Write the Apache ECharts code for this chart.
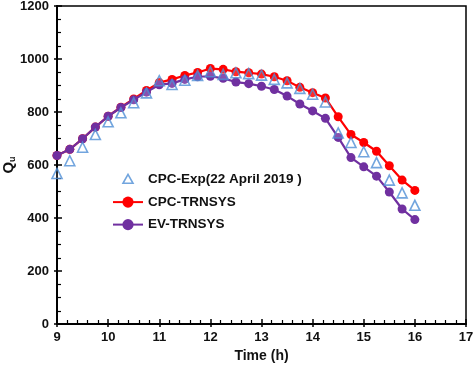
<!DOCTYPE html>
<html>
<head>
<meta charset="utf-8">
<script src="https://cdn.jsdelivr.net/npm/echarts@6/dist/echarts.min.js"></script>
<style>html,body{margin:0;padding:0;background:#fff;}#c{width:474px;height:366px;}</style>
</head>
<body>
<div id="c"></div>
<script>
const times = [9,9.25,9.5,9.75,10,10.25,10.5,10.75,11,11.25,11.5,11.75,12,12.25,12.5,12.75,13,13.25,13.5,13.75,14,14.25,14.5,14.75,15,15.25,15.5,15.75,16];
const cpcExp =    [568,616,667,715,763,797,835,872,918,904,920,938,952,942,948,945,939,923,910,889,867,838,721,685,650,609,543,495,448];
const cpcTrnsys = [636,659,699,743,784,818,849,881,911,923,938,949,964,961,952,948,943,933,918,893,873,853,782,715,685,652,597,543,504];
const evTrnsys =  [636,659,699,743,784,817,846,875,903,908,923,933,935,927,913,907,897,885,860,830,804,776,704,628,593,558,498,434,394];
const xTicks = [9,10,11,12,13,14,15,16,17];
const yTicks = [0,200,400,600,800,1000,1200];

const pair = arr => times.map((t,i)=>[t,arr[i]]);
const font = 'Liberation Sans, Arial, Helvetica, sans-serif';
const chart = echarts.init(document.getElementById('c'), null, {renderer:'canvas'});
const axisBase = {
  axisLine:{show:true,onZero:false,lineStyle:{color:'#000',width:2}},
  splitLine:{show:false}
};
const triPath = 'path://M0,0 L0,0 M5,2.5 L10,11.5 L0,11.5 Z M0,14 L0,14';
chart.setOption({
  animation:false,
  backgroundColor:'#fff',
  grid:{left:57,right:8,top:6,bottom:42,show:true,borderColor:'#000',borderWidth:1.5,containLabel:false,outerBoundsMode:'none'},
  graphic:[{
    type:'text',x:9,y:165,rotation:Math.PI/2,
    style:{text:'{a|Q}{b|u}',align:'center',verticalAlign:'middle',
      rich:{
        a:{fontFamily:font,fontWeight:'bold',fontSize:15,fill:'#111'},
        b:{fontFamily:font,fontWeight:'bold',fontSize:9,fill:'#111',padding:[7,0,0,0]}
      }}
  }],
  legend:{
    orient:'vertical',left:107,top:166,itemWidth:30,itemHeight:14,itemGap:8.5,
    textStyle:{fontFamily:font,fontWeight:'bold',fontSize:13.5,color:'#111'},
    data:[
      {name:'CPC-Exp(22 April 2019 )',icon:triPath,itemStyle:{color:'#fff',borderColor:'#4f8fd6',borderWidth:1.6}},
      'CPC-TRNSYS','EV-TRNSYS']
  },
  xAxis:[Object.assign({},axisBase,{
    type:'value',min:xTicks[0],max:xTicks[xTicks.length-1],interval:1,
    name:'Time (h)',nameLocation:'middle',nameGap:25,
    nameTextStyle:{fontFamily:font,fontWeight:'bold',fontSize:14,color:'#111'},
    axisTick:{show:true,inside:true,length:5,lineStyle:{color:'#000',width:1.5}},
    minorTick:{show:true,splitNumber:5,length:4,lineStyle:{color:'#000',width:1.2}},
    axisLabel:{fontFamily:font,fontWeight:'bold',fontSize:13,color:'#111',margin:7,formatter:v=>String(v)}
  }),{
    type:'value',min:xTicks[0],max:xTicks[xTicks.length-1],interval:1,position:'bottom',
    axisLine:{show:false},axisLabel:{show:false},splitLine:{show:false},
    axisTick:{show:true,inside:false,length:3,lineStyle:{color:'#000',width:1.5}}
  }],
  yAxis:[Object.assign({},axisBase,{
    type:'value',min:yTicks[0],max:yTicks[yTicks.length-1],interval:200,
    axisTick:{show:true,inside:true,length:5,lineStyle:{color:'#000',width:1.5}},
    minorTick:{show:true,splitNumber:4,length:4,lineStyle:{color:'#000',width:1.2}},
    axisLabel:{fontFamily:font,fontWeight:'bold',fontSize:13,color:'#111',margin:8,formatter:v=>String(v)}
  }),{
    type:'value',min:yTicks[0],max:yTicks[yTicks.length-1],interval:200,position:'left',
    axisLine:{show:false},axisLabel:{show:false},splitLine:{show:false},
    axisTick:{show:true,inside:false,length:3,lineStyle:{color:'#000',width:1.5}}
  }],
  series:[
    {name:'CPC-TRNSYS',type:'line',data:pair(cpcTrnsys),symbol:'circle',symbolSize:9,
     lineStyle:{color:'#ff0000',width:2.2},itemStyle:{color:'#ff0000'},z:2},
    {name:'EV-TRNSYS',type:'line',data:pair(evTrnsys),symbol:'circle',symbolSize:9,
     lineStyle:{color:'#7030a0',width:2.2},itemStyle:{color:'#7030a0'},z:3},
    {name:'CPC-Exp(22 April 2019 )',type:'scatter',data:pair(cpcExp),symbol:'triangle',symbolSize:10,
     itemStyle:{color:'rgba(255,255,255,0.2)',borderColor:'#4f8fd6',borderWidth:1.6},z:4}
  ]
});
</script>
</body>
</html>
